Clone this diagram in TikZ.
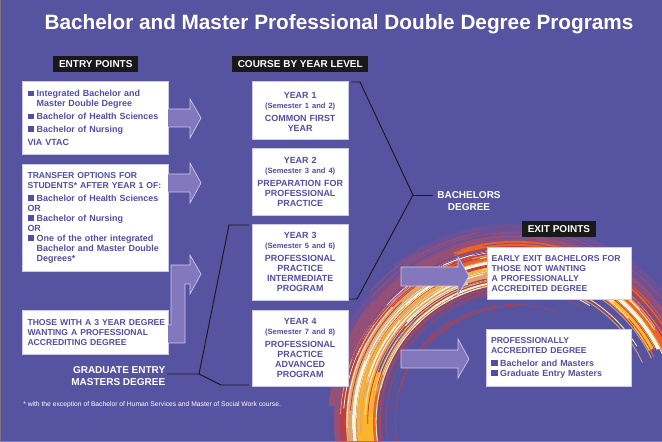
\documentclass[tikz,border=0pt]{standalone}
\usepackage{fontspec}
\setmainfont{Liberation Sans}
\definecolor{bgblue}{RGB}{86,84,160}
\definecolor{edgegrey}{RGB}{125,115,130}
\definecolor{inkblue}{RGB}{82,78,165}
\definecolor{arrowfill}{RGB}{131,120,190}
\definecolor{arrowline}{RGB}{205,200,235}
\definecolor{flare1}{RGB}{108,80,152}
\definecolor{flare2}{RGB}{150,80,120}
\definecolor{flare3}{RGB}{190,62,70}
\definecolor{flare4}{RGB}{232,100,40}
\definecolor{flare5}{RGB}{252,180,40}
\definecolor{flare6}{RGB}{255,244,210}
\definecolor{flare7}{RGB}{225,165,105}
\tikzset{
  whitebox/.style={fill=white,draw=arrowline,line width=0.3pt,text=inkblue,font=\bfseries\fontsize{6.7}{7.5}\selectfont,inner sep=0pt,anchor=north west},
  blacklabel/.style={fill=black!90,text=white,font=\bfseries\fontsize{7.5}{9}\selectfont,inner sep=0pt,anchor=north west},
  whitelabel/.style={text=white,font=\bfseries\fontsize{7.5}{9}\selectfont,inner sep=0pt},
  blockarrow/.style={fill=arrowfill,draw=arrowline,line width=0.5pt},
  bracket/.style={draw=black!90,line width=0.7pt},
  strand/.style={line width=0.6pt}
}
\newcommand{\sqb}{\textcolor{inkblue}{\rule{4.9pt}{4.4pt}}\hspace{2pt}}
\newcommand{\sqgap}{\hspace*{6.9pt}}
\newcommand{\semline}[1]{{\fontsize{5.7}{7.5}\selectfont #1}}
\newcommand{\capline}[1]{\mbox{\fontsize{6.45}{7.5}\selectfont #1}}
\begin{document}
\begin{tikzpicture}[x=0.75pt,y=0.75pt,yscale=-1,xscale=1]
\useasboundingbox (0,0) rectangle (662,442);
%Shape: Background
\fill [bgblue] (0,0) rectangle (662,442);
\fill [edgegrey] (0,0) rectangle (1.5,442);
\fill [arrowfill] (0,441) rectangle (662,442);

%Shape: Flare
\begin{scope}
\clip (1.5,0) rectangle (662,441);
\foreach \rad/\from/\to/\col/\wid in {196/232/345/flare1/5,190/205/345/flare1/6,184/185/345/flare2/6,178/165/345/flare2/6,178/250/338/flare4/6,172/165/250/flare3/6,172/250/335/flare3/6,166/165/335/flare7/6,166/245/335/flare4/6,155/165/332/flare5/7,149/165/285/flare7/6,147/165/200/flare5/16,140/165/285/flare4/4,135/165/288/flare3/2}
  \draw [color=\col,line width=\wid*0.75pt] (515,422) ++(\from:\rad) arc [start angle=\from,end angle=\to,radius=\rad];
\draw [color=flare6,line width=2.8pt] (515,422) ++(165:161) arc [start angle=165,end angle=333,radius=161];
\draw [color=flare6,line width=1.6pt] (515,422) ++(195:153) arc [start angle=195,end angle=290,radius=153];
\pgfmathsetseed{42}
%bright strands
\foreach \i in {1,...,90}{
  \pgfmathsetmacro{\rad}{138+38*rnd}
  \pgfmathsetmacro{\from}{165+135*rnd}
  \pgfmathsetmacro{\to}{min(\from+20+50*rnd,335)}
  \pgfmathsetmacro{\pick}{rnd}
  \ifdim\pick pt>0.55pt \def\col{flare6}\else\ifdim\pick pt>0.25pt \def\col{flare7}\else\def\col{flare3}\fi\fi
  \draw [strand,color=\col] (515,422) ++(\from:\rad) arc [start angle=\from,end angle=\to,radius=\rad];
}
%outer strands
\foreach \i in {1,...,40}{
  \pgfmathsetmacro{\rad}{172+24*rnd}
  \pgfmathsetmacro{\from}{190+130*rnd}
  \pgfmathsetmacro{\to}{min(\from+15+40*rnd,345)}
  \pgfmathsetmacro{\pick}{rnd}
  \ifdim\pick pt>0.5pt \def\col{flare2}\else\def\col{flare1}\fi
  \draw [strand,color=\col] (515,422) ++(\from:\rad) arc [start angle=\from,end angle=\to,radius=\rad];
}
%inner strands
\foreach \i in {1,...,16}{
  \pgfmathsetmacro{\rad}{115+18*rnd}
  \pgfmathsetmacro{\from}{165+90*rnd}
  \pgfmathsetmacro{\to}{\from+15+40*rnd}
  \draw [line width=0.35pt,color=flare3] (515,422) ++(\from:\rad) arc [start angle=\from,end angle=\to,radius=\rad];
}
\end{scope}

%Title
\node (title) [text=white,font=\bfseries\fontsize{15.55}{17}\selectfont,inner sep=0pt] at (339,24) {Bachelor and Master Professional Double Degree Programs};

%Header labels
\node (entrylabel) [blacklabel,minimum width=63.75pt,minimum height=12pt] at (53,56) {ENTRY POINTS};
\node (courselabel) [blacklabel,minimum width=102pt,minimum height=12pt] at (232,56) {COURSE BY YEAR LEVEL};
\node (exitlabel) [blacklabel,minimum width=55pt,minimum height=12pt] at (522,221) {EXIT POINTS};

%Entry boxes
\node (entryone) [whitebox,minimum width=109.5pt,minimum height=54.75pt,align=left,text width=101.5pt,inner xsep=4pt] at (22,81) {\sqb Integrated Bachelor and\\[0pt]\sqgap Master Double Degree\\[2.2pt]\sqb Bachelor of Health Sciences\\[2.2pt]\sqb Bachelor of Nursing\\[2.2pt]VIA VTAC};
\node (entrytwo) [whitebox,minimum width=109.5pt,minimum height=80.25pt,align=left,text width=101.5pt,inner xsep=4pt] at (22,164) {\capline{TRANSFER OPTIONS FOR}\\\capline{STUDENTS* AFTER YEAR 1 OF:}\\[2.2pt]\sqb Bachelor of Health Sciences\\OR\\\sqb Bachelor of Nursing\\OR\\\sqb One of the other integrated\\\sqgap \mbox{Bachelor and Master Double}\\\sqgap Degrees*};
\node (entrythree) [whitebox,minimum width=109.5pt,minimum height=33pt,align=left,text width=101.5pt,inner xsep=4pt] at (22,310) {\capline{THOSE WITH A 3 YEAR DEGREE}\\\capline{WANTING A PROFESSIONAL}\\\capline{ACCREDITING DEGREE}};

%Year boxes
\node (yearone) [whitebox,minimum width=72pt,minimum height=43.5pt,align=center,text width=72pt] at (252,81) {\rule{0pt}{7.5pt}YEAR 1\\\semline{(Semester 1 and 2)}\\[2pt]COMMON FIRST\\YEAR};
\node (yeartwo) [whitebox,minimum width=72pt,minimum height=50.25pt,align=center,text width=72pt] at (252,148) {YEAR 2\\\semline{(Semester 3 and 4)}\\[2pt]PREPARATION FOR\\PROFESSIONAL\\PRACTICE};
\node (yearthree) [whitebox,minimum width=72pt,minimum height=57pt,align=center,text width=72pt] at (252,224) {YEAR 3\\\semline{(Semester 5 and 6)}\\[2pt]PROFESSIONAL\\PRACTICE\\INTERMEDIATE\\PROGRAM};
\node (yearfour) [whitebox,minimum width=72pt,minimum height=57pt,align=center,text width=72pt] at (252,310) {YEAR 4\\\semline{(Semester 7 and 8)}\\[2pt]PROFESSIONAL\\PRACTICE\\ADVANCED\\PROGRAM};

%Exit boxes
\node (exitone) [whitebox,minimum width=108pt,minimum height=39pt,align=left,text width=101.5pt,inner xsep=3.3pt] at (487,247) {\capline{EARLY EXIT BACHELORS FOR}\\\capline{THOSE NOT WANTING}\\\capline{A PROFESSIONALLY}\\\capline{ACCREDITED DEGREE}};
\node (exittwo) [whitebox,minimum width=108.75pt,minimum height=42.75pt,align=left,text width=101.5pt,inner xsep=3.6pt] at (486,329) {\capline{PROFESSIONALLY}\\\capline{ACCREDITED DEGREE}\\[2.2pt]\sqb Bachelor and Masters\\\sqb Graduate Entry Masters};

%Side labels
\node (bachelors) [whitelabel,align=center] at (469,201) {BACHELORS\\DEGREE};
\node (graduate) [whitelabel,align=right,anchor=east] at (165.5,376) {GRADUATE ENTRY\\MASTERS DEGREE};
\node (footnote) [text=white,font=\fontsize{5.05}{6}\selectfont,inner sep=0pt,anchor=west] at (23,405) {* with the exception of Bachelor of Human Services and Master of Social Work course.};

%Block arrows
\draw [blockarrow] (168,109) -- (190,109) -- (190,99) -- (201,118) -- (190,138) -- (190,127) -- (168,127) ;
\draw [blockarrow] (168,174) -- (190,174) -- (190,163) -- (201,183) -- (190,203) -- (190,192) -- (168,192) ;
\draw [blockarrow] (168,325) -- (171,325) -- (171,265) -- (190,265) -- (190,255) -- (201,274) -- (190,294) -- (190,284) -- (185,284) -- (185,343) -- (168,343) ;
\draw [blockarrow] (401,267) -- (458,267) -- (458,257) -- (469,276) -- (458,295) -- (458,286) -- (401,286) -- cycle ;
\draw [blockarrow] (401,350) -- (458,350) -- (458,339) -- (469,359) -- (458,378) -- (458,368) -- (401,368) -- cycle ;

%Brackets
\coordinate (bachjoin) at (413,195);
\coordinate (gradjoin) at (199,374);
\coordinate (topstart) at (351,82);
\coordinate (topknee) at (360,82);
\coordinate (lowknee) at (357,299);
\coordinate (lowstart) at (349,299);
\coordinate (gradend) at (167,374);
\coordinate (bachend) at (433,195);
\coordinate (upknee) at (229,225);
\coordinate (upend) at (249,225);
\coordinate (downknee) at (221,385);
\coordinate (downend) at (249,385);
\draw [bracket] (topstart) -- (topknee) -- (bachjoin) -- (lowknee) -- (lowstart) ;
\draw [bracket] (bachjoin) -- (bachend) ;
\draw [bracket] (gradend) -- (gradjoin) -- (upknee) -- (upend) ;
\draw [bracket] (gradjoin) -- (downknee) -- (downend) ;
\end{tikzpicture}
\end{document}
